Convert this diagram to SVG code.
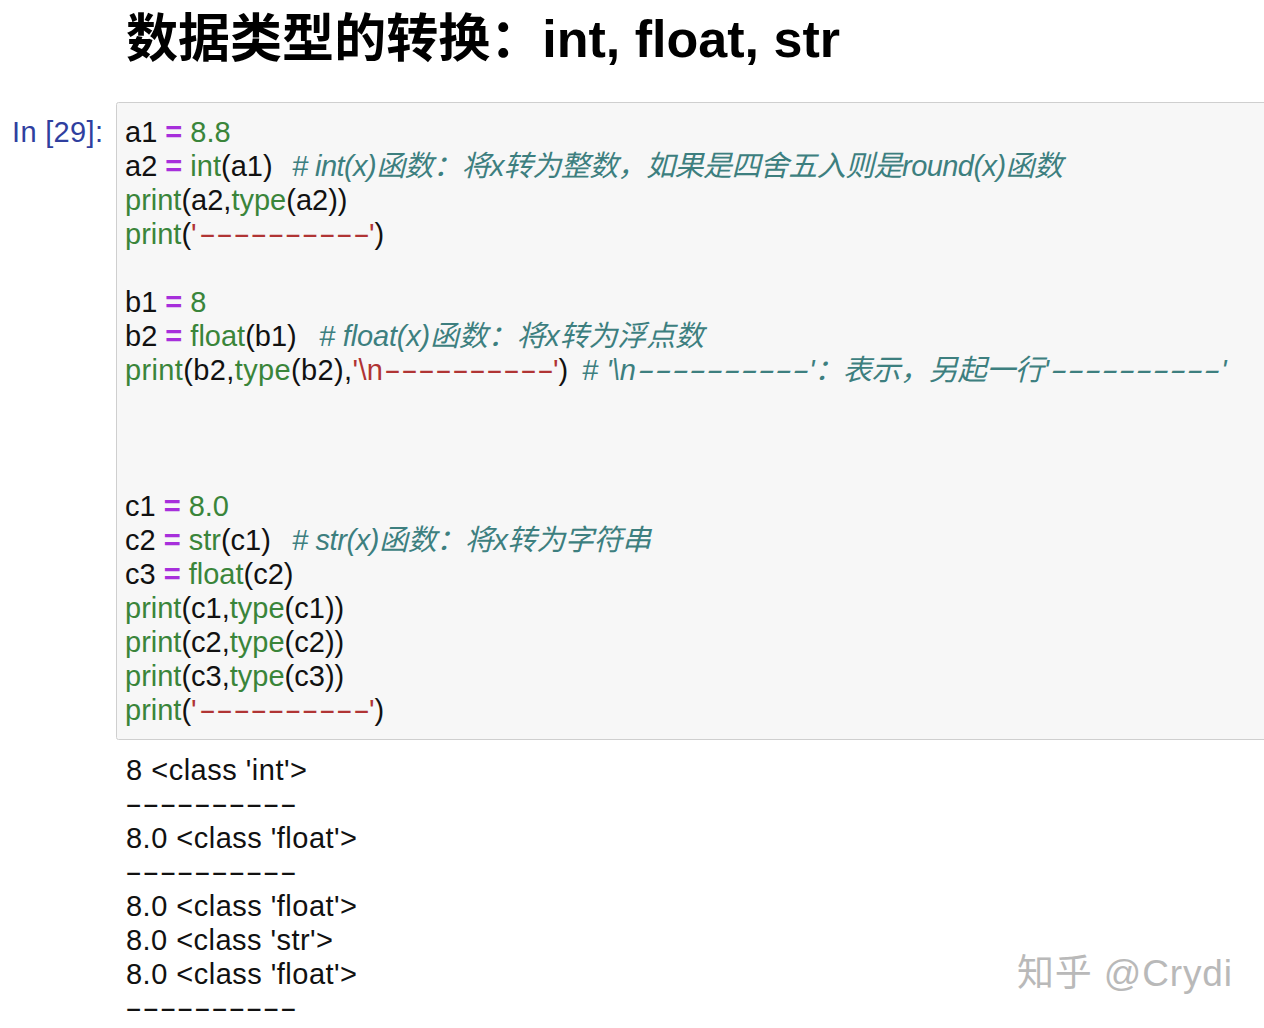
<svg xmlns="http://www.w3.org/2000/svg" width="1264" height="1028" viewBox="0 0 1264 1028">
<style>
text{font-family:"Liberation Sans","Noto Sans CJK SC",sans-serif;font-size:29px;fill:#111;}
.title{font-size:52px;font-weight:bold;fill:#000;}
.prompt{fill:#303F9F;}
.op{fill:#A72FDB;font-weight:bold;}
.num{fill:#3A853A;}
.bi{fill:#3A853A;}
.str{fill:#B03434;}
.cm{fill:#3D7F7F;font-style:italic;}
.wm{fill:#b9b9b9;font-size:37px;}
</style>
<rect width="1264" height="1028" fill="#ffffff"/>
<g id="title">
<text class="title" x="126" y="57" textLength="714" lengthAdjust="spacingAndGlyphs">数据类型的转换：int, float, str</text>
</g>
<g id="cell">
<rect x="116.5" y="102.5" width="1160" height="637" rx="2" fill="#f7f7f7" stroke="#cfcfcf" stroke-width="1"/>
<text class="prompt" x="12" y="142" textLength="91">In [29]:</text>
<g id="code">
<text x="125" y="142">a1 <tspan class="op">=</tspan> <tspan class="num">8.8</tspan></text>
<text x="125" y="176">a2 <tspan class="op">=</tspan> <tspan class="bi">int</tspan>(a1)</text>
<text class="cm" x="292" y="176" textLength="771">#&#160;int(x)函数：将x转为整数，如果是四舍五入则是round(x)函数</text>
<text x="125" y="210"><tspan class="bi">print</tspan>(a2,<tspan class="bi">type</tspan>(a2))</text>
<text x="125" y="244"><tspan class="bi">print</tspan>(<tspan class="str">'</tspan></text>
<text class="str" x="199" y="244" textLength="171" lengthAdjust="spacingAndGlyphs">----------</text>
<text x="369" y="244"><tspan class="str">'</tspan>)</text>

<text x="125" y="312">b1 <tspan class="op">=</tspan> <tspan class="num">8</tspan></text>
<text x="125" y="346">b2 <tspan class="op">=</tspan> <tspan class="bi">float</tspan>(b1)</text>
<text class="cm" x="319" y="346" textLength="385">#&#160;float(x)函数：将x转为浮点数</text>
<text x="125" y="380" textLength="258"><tspan class="bi">print</tspan>(b2,<tspan class="bi">type</tspan>(b2),<tspan class="str">'\n</tspan></text>
<text class="str" x="384" y="380" textLength="170" lengthAdjust="spacingAndGlyphs">----------</text>
<text x="553" y="380"><tspan class="str">'</tspan>)</text>
<text class="cm" x="582" y="380">#&#160;'\n</text>
<text class="cm" x="637" y="380" textLength="172" lengthAdjust="spacingAndGlyphs">----------</text>
<text class="cm" x="809" y="380" textLength="240">'：表示，另起一行'</text>
<text class="cm" x="1050" y="380" textLength="170" lengthAdjust="spacingAndGlyphs">----------</text>
<text class="cm" x="1221" y="380">'</text>

<text x="125" y="516">c1 <tspan class="op">=</tspan> <tspan class="num">8.0</tspan></text>
<text x="125" y="550">c2 <tspan class="op">=</tspan> <tspan class="bi">str</tspan>(c1)</text>
<text class="cm" x="292" y="550" textLength="359">#&#160;str(x)函数：将x转为字符串</text>
<text x="125" y="584">c3 <tspan class="op">=</tspan> <tspan class="bi">float</tspan>(c2)</text>
<text x="125" y="618"><tspan class="bi">print</tspan>(c1,<tspan class="bi">type</tspan>(c1))</text>
<text x="125" y="652"><tspan class="bi">print</tspan>(c2,<tspan class="bi">type</tspan>(c2))</text>
<text x="125" y="686"><tspan class="bi">print</tspan>(c3,<tspan class="bi">type</tspan>(c3))</text>
<text x="125" y="720"><tspan class="bi">print</tspan>(<tspan class="str">'</tspan></text>
<text class="str" x="199" y="720" textLength="171" lengthAdjust="spacingAndGlyphs">----------</text>
<text x="369" y="720"><tspan class="str">'</tspan>)</text>
</g>
</g>
<g id="output">
<text x="126" y="780" textLength="181">8 &lt;class 'int'&gt;</text>
<text x="125" y="814" textLength="172" lengthAdjust="spacingAndGlyphs">----------</text>
<text x="126" y="848" textLength="231">8.0 &lt;class 'float'&gt;</text>
<text x="125" y="882" textLength="172" lengthAdjust="spacingAndGlyphs">----------</text>
<text x="126" y="916" textLength="231">8.0 &lt;class 'float'&gt;</text>
<text x="126" y="950" textLength="207">8.0 &lt;class 'str'&gt;</text>
<text x="126" y="984" textLength="231">8.0 &lt;class 'float'&gt;</text>
<text x="125" y="1018" textLength="172" lengthAdjust="spacingAndGlyphs">----------</text>
</g>
<g id="watermark">
<text class="wm" x="1017" y="986" textLength="215">知乎 @Crydi</text>
</g>
</svg>
